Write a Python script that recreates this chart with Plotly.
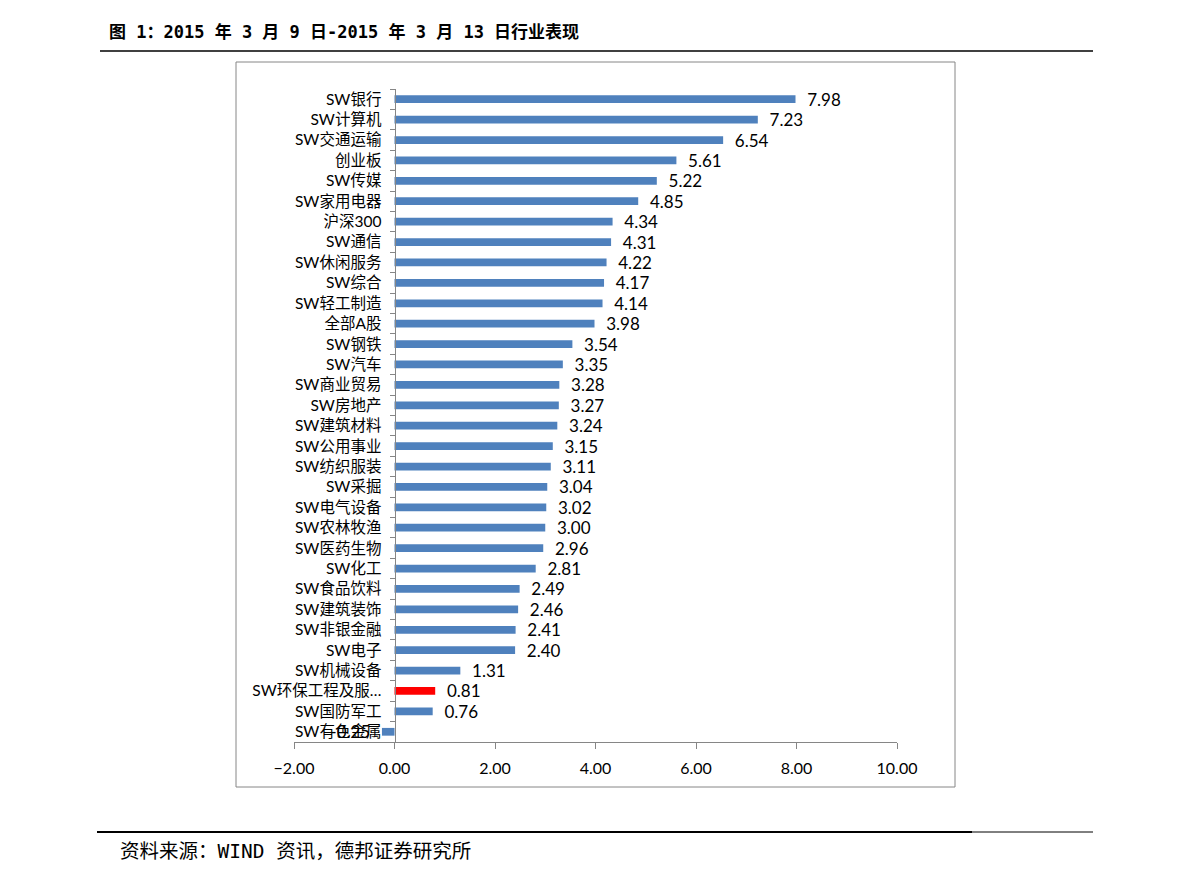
import plotly.graph_objects as go

categories = ["SW银行", "SW计算机", "SW交通运输", "创业板", "SW传媒", "SW家用电器", "沪深300",
              "SW通信", "SW休闲服务", "SW综合", "SW轻工制造", "全部A股", "SW钢铁", "SW汽车",
              "SW商业贸易", "SW房地产", "SW建筑材料", "SW公用事业", "SW纺织服装", "SW采掘",
              "SW电气设备", "SW农林牧渔", "SW医药生物", "SW化工", "SW食品饮料", "SW建筑装饰",
              "SW非银金融", "SW电子", "SW机械设备", "SW环保工程及服…", "SW国防军工", "SW有色金属"]
values = [7.98, 7.23, 6.54, 5.61, 5.22, 4.85, 4.34, 4.31, 4.22, 4.17, 4.14, 3.98, 3.54, 3.35,
          3.28, 3.27, 3.24, 3.15, 3.11, 3.04, 3.02, 3.00, 2.96, 2.81, 2.49, 2.46, 2.41, 2.40,
          1.31, 0.81, 0.76, -0.25]
highlight = "SW环保工程及服…"
x_ticks = [-2, 0, 2, 4, 6, 8, 10]
title_text = "图 1：2015 年 3 月 9 日-2015 年 3 月 13 日行业表现"
source_text = "资料来源：WIND 资讯，德邦证券研究所"

W, H = 1191, 880
L, R, T, B = 294, 897, 89, 742  # plot area in pixels
XMIN, XMAX = x_ticks[0], x_ticks[-1]


def px(xp):
    return (xp - L) / (R - L)


def py(yp):
    return (B - yp) / (B - T)


colors = ["#FF0000" if c == highlight else "#4F81BD" for c in categories]
texts = [f"  {v:.2f}" if v >= 0 else f"{v:.2f}  " for v in values]

fig = go.Figure(go.Bar(
    y=categories, x=values, orientation="h",
    marker=dict(color=colors, line=dict(width=0)),
    text=texts, textposition="outside", cliponaxis=False, constraintext="none",
    textfont=dict(family="Lato, Noto Sans CJK SC", size=17, color="#000000"),
    hoverinfo="skip",
))

fig.update_layout(
    width=W, height=H,
    margin=dict(l=L, r=W - R, t=T, b=H - B, pad=0),
    paper_bgcolor="white", plot_bgcolor="white",
    bargap=0.62, showlegend=False,
    xaxis=dict(range=[XMIN, XMAX], tickvals=x_ticks, tickformat=".2f",
               showgrid=False, zeroline=False, showline=True, linecolor="#868686",
               linewidth=1, ticks="outside", ticklen=6, tickcolor="#868686",
               tickfont=dict(family="Lato, Noto Sans CJK SC", size=16, color="#000000"),
               ticklabelstandoff=6),
    yaxis=dict(categoryorder="array", categoryarray=categories, autorange="reversed",
               anchor="free", position=(0 - XMIN) / (XMAX - XMIN),
               showgrid=False, zeroline=False, showline=True, linecolor="#868686",
               linewidth=1, ticks="outside", ticklen=5, tickcolor="#868686",
               tickson="boundaries",
               tickfont=dict(family="Lato, Noto Sans CJK SC", size=15.5, color="#000000"),
               ticklabelstandoff=10),
)

shapes = [
    # chart border
    dict(type="rect", xref="paper", yref="paper", x0=px(236), x1=px(955), y0=py(62), y1=py(787),
         line=dict(color="#868686", width=1), fillcolor="rgba(0,0,0,0)", layer="below"),
    # title underline
    dict(type="line", xref="paper", yref="paper", x0=px(100), x1=px(1093), y0=py(51), y1=py(51),
         line=dict(color="#000000", width=1.5)),
    # footer line (thick and thin parts)
    dict(type="line", xref="paper", yref="paper", x0=px(97), x1=px(972), y0=py(832), y1=py(832),
         line=dict(color="#000000", width=2)),
    dict(type="line", xref="paper", yref="paper", x0=px(972), x1=px(1093), y0=py(832), y1=py(832),
         line=dict(color="#000000", width=1)),
]
fig.update_layout(shapes=shapes)

fig.add_annotation(xref="paper", yref="paper", x=px(107), y=py(32), xanchor="left", yanchor="middle",
                   text=f"<b>{title_text}</b>", showarrow=False,
                   font=dict(family="DejaVu Sans Mono, Noto Sans CJK SC", size=17, color="#000000"))
fig.add_annotation(xref="paper", yref="paper", x=px(118), y=py(851), xanchor="left", yanchor="middle",
                   text=source_text, showarrow=False,
                   font=dict(family="DejaVu Sans Mono, Noto Sans CJK SC", size=19.5, color="#000000"))

fig.write_html("out.html")
